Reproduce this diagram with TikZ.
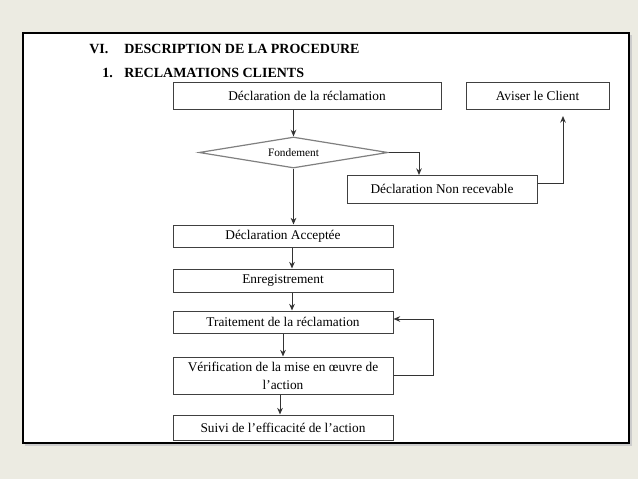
\documentclass[tikz,border=0pt]{standalone}
\usepackage{fontspec}
\setmainfont{Liberation Serif}
\usetikzlibrary{shapes.geometric,arrows.meta}
\definecolor{fondpage}{HTML}{ECEBE2}

\begin{document}
\begin{tikzpicture}[line join=miter, >={Stealth[length=5pt,width=4.2pt]}, x=0.75pt, y=-0.75pt,
	boite/.style={draw=black!75, line width=0.75pt, fill=white, inner sep=1pt, align=center, font=\fontsize{10}{13.5}\selectfont},
	losange/.style={diamond, aspect=6, draw=black!50, line width=0.9pt, fill=white, inner sep=0pt, font=\fontsize{8.5}{10}\selectfont},
	fleche/.style={->, draw=black!80, line width=0.75pt},
	titre/.style={anchor=west, inner sep=0pt, font=\bfseries\fontsize{10.5}{12}\selectfont}]
	
	\def\pxl{0.75pt}
	
	% page et cadre
	\fill[fondpage] (0,0) rectangle (638,479);
	\useasboundingbox (0,0) rectangle (638,479);
	\fill[black!20] (25,35) rectangle (632,446);
	\draw[line width=1.9pt, fill=white] (23,33) rectangle (629,443);
	
	\node[titre] (t1n) at (89,49) {VI.};
	\node[titre] (t1) at (124,49) {DESCRIPTION DE LA PROCEDURE};
	\node[titre] (t2n) at (102,73) {1.};
	\node[titre] (t2) at (124,73) {RECLAMATIONS CLIENTS};
	
	\node[boite, minimum width=268*\pxl, minimum height=27*\pxl] (decl) at (307,95.5) {Déclaration de la réclamation};
	\node[boite, minimum width=143*\pxl, minimum height=27*\pxl] (aviser) at (537.5,95.5) {Aviser le Client};
	\node[losange, minimum width=189*\pxl, minimum height=31*\pxl] (fond) at (293.5,152.5) {Fondement};
	\node[boite, minimum width=190*\pxl, minimum height=28*\pxl] (nonrec) at (442,189) {Déclaration Non recevable};
	
	\node[boite, minimum width=220*\pxl, minimum height=22*\pxl] (accept) at (283,236) {Déclaration Acceptée};
	\node[boite, minimum width=220*\pxl, minimum height=23*\pxl] (enreg) at (283,280.5) {Enregistrement};
	\node[boite, minimum width=220*\pxl, minimum height=22*\pxl] (trait) at (283,322) {Traitement de la réclamation};
	\node[boite, minimum width=220*\pxl, minimum height=37*\pxl] (verif) at (283,375.5) {Vérification de la mise en œuvre de\\ l’action};
	\node[boite, minimum width=220*\pxl, minimum height=25*\pxl] (suivi) at (283,427.5) {Suivi de l’efficacité de l’action};
	
	\coordinate (nrin) at (419,175);
	\coordinate (avin) at (563,116);
	
	\draw[fleche] (fond.north |- decl.south) -- (fond.north);
	\draw[fleche] (fond.east) -| (nrin);
	\draw[fleche] ([yshift=4.5pt]nonrec.east) -| (avin);
	\draw[fleche] (fond.south) -- (fond.south |- accept.north);
	\draw[fleche] ([xshift=6.75pt]accept.south) -- ([xshift=6.75pt]enreg.north);
	\draw[fleche] ([xshift=6.75pt]enreg.south) -- ([xshift=6.75pt]trait.north);
	\draw[fleche] (trait.south) -- (verif.north);
	\draw[fleche] ([xshift=-2.25pt]verif.south) -- ([xshift=-2.25pt]suivi.north);
	\draw[fleche] (verif.east) -- ++(40,0) |- ([yshift=2.25pt]trait.east);
	
\end{tikzpicture}
\end{document}
